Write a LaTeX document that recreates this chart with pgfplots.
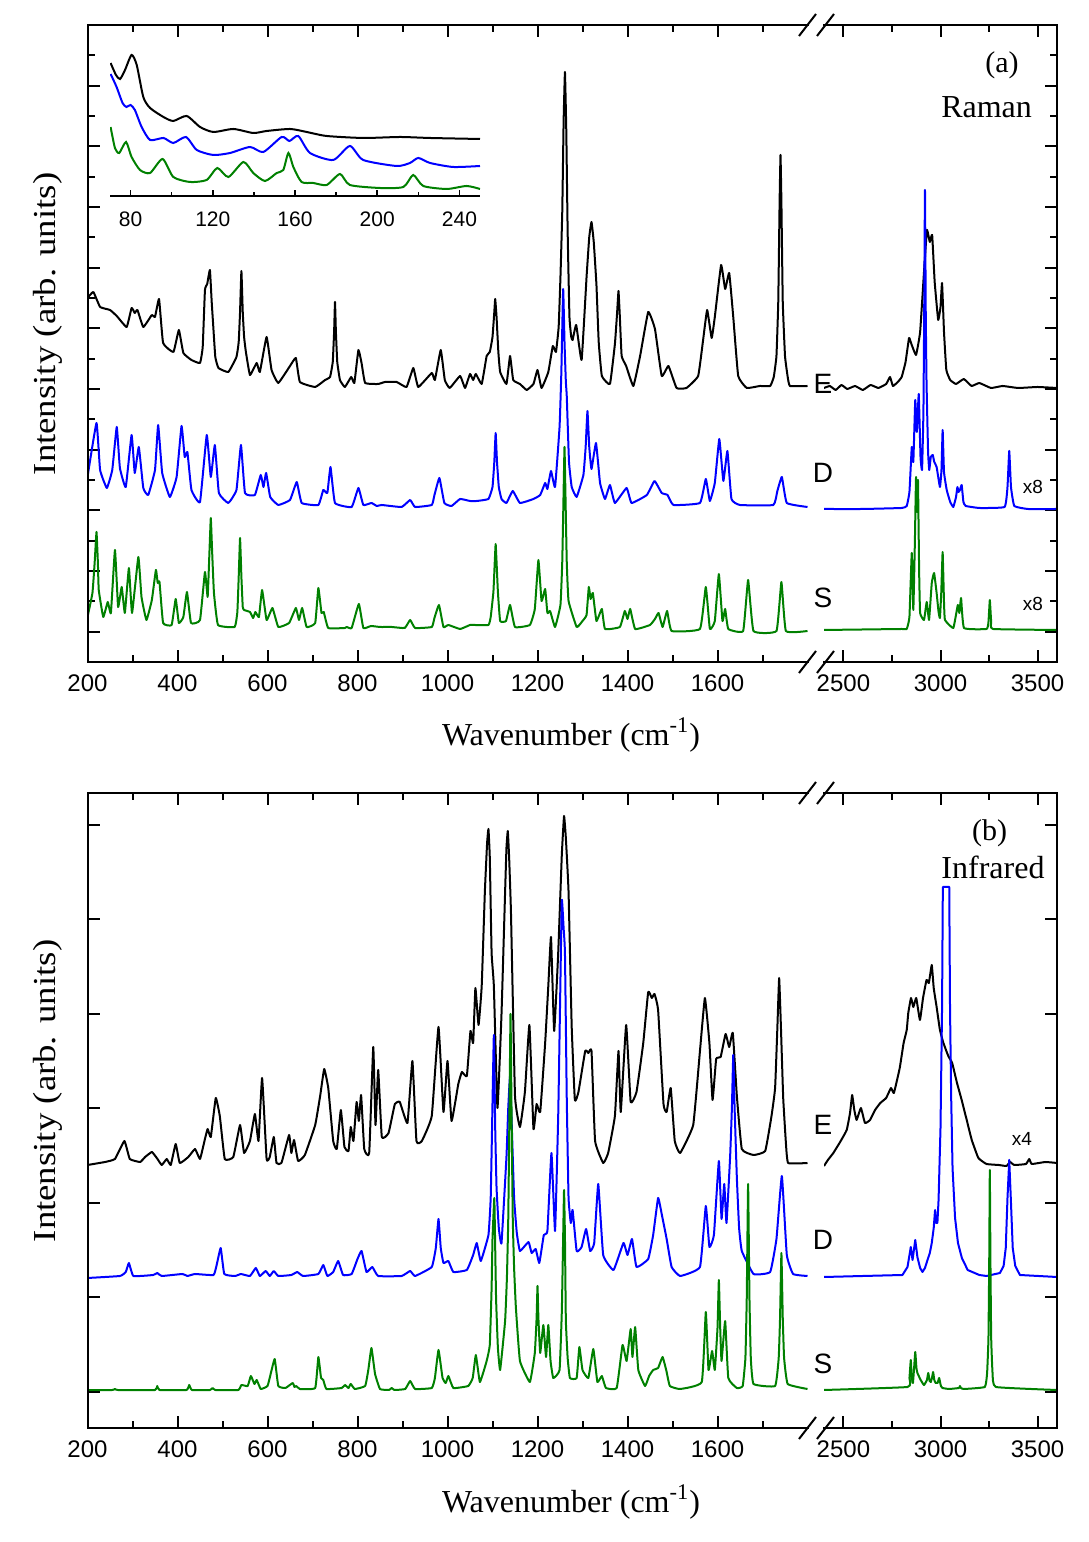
\documentclass[border=0pt]{standalone}
\usepackage{fontspec}
\setmainfont{Liberation Serif}
\setsansfont{Liberation Sans}
\usepackage{pgfplots}
\pgfplotsset{compat=1.18}
\definecolor{cD}{RGB}{0,0,255}
\definecolor{cS}{RGB}{0,128,0}
\pgfplotsset{
  myax/.style={scale only axis, anchor=south west, axis line style={draw=none},
    tick align=inside, major tick length=6pt, minor tick length=3.5pt,
    tick style={black, line width=1pt},
    tick label style={font=\sffamily\fontsize{12}{14}\selectfont},
    xticklabel style={yshift=-3pt},
    /pgf/number format/1000 sep={}, /pgf/number format/assume math mode=true,
    yticklabels={}, ymin=0},
  axA/.style={myax, ymax=637, height=318.5pt,
    ytick={30.33,91,151.67,212.33,273,333.67,394.33,455,515.67,576.33,637},
    minor ytick={0,60.67,121.33,182,242.67,303.33,364,424.67,485.33,546,606.67}},
  axB/.style={myax, ymax=635, height=317.5pt,
    ytick={36.3,130.8,225.3,319.8,414.3,508.8,603.3}},
  L/.style={xmin=200, xmax=1800, width=360pt, xtick={200,400,...,1600}, minor xtick={300,500,...,1700}, ytick pos=left},
  R/.style={xmin=2400, xmax=3600, width=116.5pt, xtick={2500,3000,3500}, minor xtick={2750,3250}, ytick pos=right},
  sE/.style={black, line width=1pt, line join=round, smooth, tension=0.2},
  sD/.style={cD, line width=1pt, line join=round, smooth, tension=0.2},
  sS/.style={cS, line width=1pt, line join=round, smooth, tension=0.2},
}
\begin{document}
\begin{tikzpicture}
\path[use as bounding box] (0pt,0pt) rectangle (544pt,771pt);

% ================= Panel (a) left =================
\begin{axis}[axA, L, at={(43.75pt,440pt)}]
\addplot[sE] coordinates {(200,364) (213,370) (228,355) (250,352) (265,346) (287,335) (298,354) (305,349) (311,352) (324,335) (343,347) (350,345) (359,363) (368,319) (391,310) (403,332) (413,309) (431,302) (450,299) (456,315) (461,372) (466,378) (472,392) (476,360) (479,339) (484,305) (491,294) (513,290) (531,305) (536,320) (539,350) (542,391) (545,350) (548,325) (552,310) (561,287) (576,299) (583,290) (598,325) (609,292) (624,279) (650,296) (663,304) (672,280) (706,275) (728,282) (739,285) (745,300) (748,330) (750,360) (752,330) (755,300) (761,282) (772,275) (786,285) (793,279) (802,312) (809,299) (817,279) (846,278) (861,280) (887,280) (909,275) (924,294) (935,275) (965,289) (972,282) (985,312) (994,282) (1005,274) (1028,286) (1039,274) (1050,288) (1057,282) (1063,288) (1076,278) (1087,306) (1094,310) (1100,325) (1104,350) (1106,363) (1109,345) (1113,310) (1117,290) (1131,278) (1139,306) (1146,282) (1161,278) (1176,272) (1191,278) (1200,292) (1209,274) (1224,290) (1234,316) (1241,310) (1247,335) (1251,385) (1255,450) (1258,540) (1261,590) (1264,530) (1267,430) (1271,345) (1275,325) (1278,322) (1286,337) (1298,302) (1309,385) (1315,425) (1320,440) (1325,420) (1331,377) (1336,320) (1343,286) (1361,278) (1372,318) (1377,350) (1380,371) (1383,345) (1387,306) (1397,296) (1413,276) (1428,306) (1446,350) (1461,333) (1476,286) (1491,296) (1509,274) (1531,274) (1557,286) (1568,322) (1577,352) (1587,324) (1594,345) (1608,397) (1617,373) (1626,389) (1635,345) (1646,286) (1665,274) (1694,276) (1717,276) (1725,285) (1731,306) (1735,360) (1738,460) (1740,507) (1742,460) (1745,360) (1750,306) (1756,285) (1761,276) (1800,276)};
\addplot[sD] coordinates {(200,185) (220,239) (228,192) (243,174) (255,192) (265,235) (272,194) (285,175) (298,227) (305,189) (314,215) (324,174) (335,167) (350,192) (357,237) (366,189) (383,165) (398,185) (409,236) (416,205) (422,210) (431,172) (450,160) (465,227) (474,185) (483,217) (492,169) (513,159) (531,172) (541,217) (550,169) (572,167) (585,187) (591,175) (597,189) (606,165) (624,157) (650,162) (665,180) (676,159) (713,157) (724,172) (733,169) (740,195) (750,159) (787,155) (802,174) (813,157) (831,159) (843,156) (854,157) (898,155) (917,162) (928,155) (965,157) (971,167) (982,184) (993,159) (1009,156) (1028,163) (1050,161) (1065,161) (1091,163) (1100,175) (1104,200) (1107,229) (1110,200) (1114,175) (1120,163) (1131,159) (1145,171) (1161,159) (1191,163) (1206,167) (1217,179) (1222,173) (1230,191) (1239,175) (1249,235) (1253,290) (1257,373) (1260,320) (1263,280) (1265,266) (1270,200) (1276,175) (1287,165) (1302,187) (1307,215) (1311,251) (1315,215) (1320,193) (1330,219) (1339,179) (1350,163) (1361,177) (1372,159) (1398,174) (1409,159) (1443,167) (1460,181) (1476,169) (1489,167) (1502,157) (1561,159) (1574,183) (1583,161) (1594,179) (1604,223) (1613,181) (1622,211) (1631,163) (1650,157) (1724,157) (1733,171) (1743,185) (1754,159) (1800,155)};
\addplot[sS] coordinates {(200,45) (211,69) (216,100) (220,130) (223,100) (225,72) (235,45) (245,60) (252,49) (261,112) (268,55) (276,75) (283,49) (292,94) (299,49) (313,105) (320,65) (331,42) (343,62) (352,92) (356,79) (360,80) (368,39) (387,37) (396,63) (403,39) (413,45) (421,70) (430,39) (450,42) (461,90) (467,65) (471,110) (474,144) (477,110) (481,69) (490,37) (527,35) (533,50) (536,85) (539,124) (542,85) (545,55) (548,52) (561,50) (568,44) (573,50) (581,45) (588,72) (598,42) (611,54) (624,35) (648,39) (663,54) (670,42) (677,54) (687,35) (706,39) (713,74) (720,49) (725,50) (735,34) (772,34) (776,35) (787,34) (803,58) (813,34) (830,36) (850,35) (876,35) (905,34) (917,42) (928,34) (965,35) (971,44) (981,57) (991,35) (1002,37) (1028,33) (1050,37) (1061,37) (1091,37) (1096,45) (1102,70) (1105,100) (1107,118) (1109,100) (1112,70) (1117,41) (1130,41) (1139,57) (1150,35) (1183,37) (1194,53) (1202,102) (1209,61) (1217,73) (1222,49) (1228,51) (1239,35) (1251,57) (1255,100) (1258,170) (1260,215) (1262,170) (1265,100) (1269,61) (1287,35) (1300,41) (1309,47) (1314,75) (1318,63) (1323,69) (1331,41) (1343,53) (1350,33) (1383,35) (1394,51) (1400,43) (1406,53) (1417,33) (1450,37) (1461,43) (1469,49) (1478,35) (1488,51) (1498,31) (1561,33) (1574,75) (1583,33) (1594,41) (1603,88) (1611,41) (1617,53) (1624,33) (1657,31) (1668,82) (1680,31) (1731,31) (1742,80) (1752,31) (1800,31)};
\end{axis}

% ================= Panel (a) right =================
\begin{axis}[axA, R, at={(412pt,440pt)}]
\addplot[sE] coordinates {(2400,274) (2430,276) (2460,272) (2490,277) (2520,273) (2560,276) (2600,272) (2640,277) (2680,274) (2720,278) (2740,285) (2755,276) (2780,280) (2800,285) (2820,300) (2838,324) (2850,318) (2874,307) (2895,330) (2915,390) (2930,432) (2945,420) (2957,427) (2970,380) (2988,342) (3000,355) (3008,379) (3018,330) (3030,292) (3050,282) (3080,278) (3120,283) (3160,276) (3200,279) (3260,274) (3320,276) (3400,274) (3500,275) (3600,274)};
\addplot[sD] coordinates {(2400,153) (2600,153) (2800,154) (2826,156) (2840,170) (2852,215) (2860,200) (2870,262) (2878,230) (2888,268) (2897,205) (2905,192) (2912,250) (2916,350) (2920,472) (2924,350) (2928,280) (2936,210) (2942,192) (2950,205) (2960,207) (2968,200) (2980,195) (2997,175) (3005,192) (3011,232) (3018,190) (3032,172) (3050,160) (3066,155) (3080,165) (3087,175) (3093,170) (3100,172) (3109,177) (3118,160) (3130,156) (3200,154) (3330,155) (3345,175) (3354,211) (3363,175) (3380,156) (3450,153) (3600,153)};
\addplot[sS] coordinates {(2400,32) (2800,33) (2826,33) (2840,45) (2852,109) (2860,52) (2868,120) (2874,185) (2880,150) (2884,182) (2890,90) (2895,49) (2915,42) (2929,60) (2941,42) (2955,79) (2967,89) (2980,69) (2990,50) (2997,44) (3004,70) (3011,110) (3018,60) (3023,42) (3066,34) (3089,57) (3097,49) (3106,64) (3121,34) (3237,33) (3247,40) (3254,62) (3261,40) (3271,33) (3600,32)};
\end{axis}

% ================= Inset =================
\begin{axis}[scale only axis, anchor=south west, at={(55pt,673pt)}, width=185pt, height=75pt,
  xmin=70, xmax=250, ymin=0, ymax=150, axis x line*=bottom, axis y line=none, ytick=\empty,
  xtick={80,120,...,240}, minor xtick={100,140,180,220},
  tick align=inside, major tick length=3pt, minor tick length=2pt,
  tick style={black, line width=0.8pt}, x axis line style={line width=1pt},
  tick label style={font=\sffamily\fontsize{10.5}{12}\selectfont},
  xticklabel style={yshift=-4.5pt},
  /pgf/number format/assume math mode=true]
\addplot[black, line width=1pt, smooth, tension=0.4] coordinates {(70.3,133) (72.9,121) (74.9,117) (77.3,126) (80.5,141) (83,131) (86.2,99) (89.5,88) (96,79) (100.8,75) (107.3,80) (113.8,69) (120.3,64) (130,67) (139.7,63) (146.2,65) (157.6,67) (165.7,64) (175.4,60) (193.3,58) (211.1,59) (225.7,58) (250,57)};
\addplot[cD, line width=1pt, smooth, tension=0.4] coordinates {(70.3,122) (73.2,109) (76.1,93) (78,89) (80,91) (82.1,86) (85.4,69) (89.5,56) (96,58) (100.8,53) (107,59) (112.2,46) (120.3,41) (128.4,43) (138.1,49) (144.6,44) (153.5,59) (157.3,55) (161.6,60) (167.3,43) (178.6,36) (186.7,50) (193.2,36) (209.4,30) (215.9,33) (220,38) (225.7,33) (237,29) (250,30)};
\addplot[cS, line width=1pt, smooth, tension=0.4] coordinates {(70.3,69) (72.4,48) (74.5,43) (77.8,54) (80.5,39) (84.6,26) (89.5,23) (95.6,37) (100.8,19) (108.9,14) (117,16) (122.2,28) (127.6,19) (134.9,34) (139.7,23) (145.4,15) (151.1,23) (154.3,26) (156.8,43) (159.2,29) (163.2,14) (168.9,13) (175.4,11) (181.9,22) (186.7,11) (201.3,8) (212.7,9) (217.5,21) (222.4,10) (233.8,7) (243.5,10) (250,7)};
\end{axis}

% ================= Panel (b) left =================
\begin{axis}[axB, L, at={(43.75pt,57pt)}]
\addplot[sE] coordinates {(200,263) (239,266) (261,269) (282,287) (294,269) (317,266) (328,271) (343,276) (354,270) (365,263) (376,269) (385,263) (396,284) (405,265) (424,271) (439,279) (450,269) (461,289) (467,299) (474,291) (485,330) (494,312) (505,269) (524,271) (539,303) (548,275) (561,287) (572,314) (580,287) (588,350) (598,269) (605,271) (614,291) (620,265) (631,265) (648,293) (653,275) (659,288) (668,267) (683,273) (706,303) (717,332) (726,359) (735,340) (746,287) (754,279) (763,318) (771,281) (780,277) (785,301) (791,287) (798,326) (803,307) (808,333) (815,279) (826,275) (835,381) (840,303) (846,358) (854,291) (869,295) (883,324) (894,326) (911,305) (922,367) (931,287) (943,287) (965,312) (980,401) (991,316) (1000,367) (1009,307) (1024,344) (1032,356) (1043,352) (1051,397) (1057,385) (1062,440) (1069,403) (1076,442) (1083,536) (1088,585) (1091,599) (1094,570) (1098,475) (1103,442) (1111,320) (1120,414) (1128,536) (1131,580) (1134,597) (1137,570) (1141,516) (1150,332) (1161,301) (1172,336) (1182,403) (1191,299) (1198,324) (1206,316) (1217,385) (1224,442) (1230,491) (1237,397) (1246,475) (1254,573) (1259,612) (1263,590) (1269,536) (1276,401) (1283,328) (1291,336) (1306,377) (1313,375) (1320,377) (1328,287) (1346,265) (1357,275) (1372,312) (1380,377) (1385,316) (1397,403) (1407,326) (1420,336) (1435,385) (1446,436) (1454,430) (1460,434) (1468,418) (1480,324) (1487,316) (1496,340) (1505,287) (1517,275) (1546,303) (1561,377) (1572,430) (1582,385) (1589,328) (1597,369) (1607,371) (1618,394) (1626,381) (1634,395) (1643,332) (1654,279) (1680,273) (1706,277) (1720,312) (1728,340) (1733,400) (1737,450) (1741,400) (1746,330) (1752,285) (1757,265) (1800,265)};
\addplot[sD] coordinates {(200,150) (272,152) (285,156) (292,165) (302,152) (346,153) (355,155) (365,152) (411,154) (422,152) (439,154) (480,153) (487,163) (496,180) (504,154) (528,152) (541,154) (561,152) (574,160) (583,152) (596,157) (605,152) (614,157) (624,152) (653,153) (666,156) (679,152) (713,154) (724,163) (733,152) (746,156) (757,167) (768,153) (787,154) (800,169) (809,177) (820,156) (833,161) (846,152) (898,152) (917,157) (928,152) (965,161) (974,180) (980,209) (985,180) (991,165) (1002,167) (1013,156) (1043,158) (1057,173) (1065,185) (1074,167) (1091,193) (1096,230) (1099,300) (1103,393) (1106,300) (1109,240) (1114,200) (1120,185) (1131,271) (1135,320) (1139,352) (1143,300) (1148,230) (1154,195) (1161,177) (1180,186) (1187,175) (1196,179) (1204,165) (1214,193) (1222,197) (1231,275) (1239,197) (1246,312) (1250,420) (1254,528) (1258,500) (1261,475) (1265,330) (1269,230) (1274,205) (1278,218) (1287,177) (1298,181) (1308,199) (1317,177) (1326,185) (1335,244) (1346,173) (1369,158) (1391,185) (1400,173) (1410,189) (1420,161) (1446,169) (1457,193) (1468,230) (1476,214) (1487,189) (1498,161) (1517,152) (1561,161) (1574,222) (1582,181) (1592,193) (1603,267) (1609,209) (1615,244) (1620,205) (1628,271) (1632,320) (1635,373) (1638,320) (1643,250) (1648,200) (1654,177) (1680,154) (1717,156) (1731,189) (1743,252) (1754,173) (1768,154) (1800,152)};
\addplot[sS] coordinates {(200,38) (255,38) (261,39) (267,38) (350,38) (355,42) (360,38) (420,38) (426,43) (432,38) (472,38) (478,40) (484,38) (535,38) (542,43) (556,42) (563,52) (571,44) (576,48) (585,39) (600,42) (607,54) (616,69) (624,42) (640,40) (656,45) (660,41) (664,42) (672,39) (706,40) (713,71) (719,50) (724,48) (731,39) (765,40) (772,43) (780,40) (785,44) (794,39) (817,42) (824,58) (831,80) (839,54) (850,39) (870,38) (876,40) (882,38) (906,39) (917,47) (928,39) (965,40) (972,50) (980,78) (989,50) (996,45) (1002,52) (1013,40) (1046,42) (1056,50) (1063,73) (1072,46) (1087,67) (1094,83) (1098,140) (1100,189) (1104,230) (1106,180) (1108,128) (1112,80) (1117,58) (1128,107) (1132,150) (1135,209) (1138,330) (1140,414) (1142,330) (1145,210) (1148,160) (1152,120) (1161,67) (1183,46) (1194,75) (1198,110) (1200,142) (1202,110) (1206,75) (1213,103) (1219,71) (1224,103) (1229,67) (1235,50) (1249,58) (1254,116) (1257,190) (1259,238) (1261,190) (1263,107) (1267,70) (1272,50) (1287,50) (1293,81) (1300,58) (1313,50) (1324,79) (1333,46) (1343,52) (1352,40) (1376,40) (1389,83) (1398,67) (1407,99) (1411,71) (1417,101) (1424,58) (1439,42) (1448,52) (1457,58) (1468,60) (1478,71) (1487,56) (1494,42) (1517,39) (1565,46) (1574,116) (1580,58) (1588,77) (1594,58) (1600,100) (1603,148) (1606,100) (1609,67) (1617,107) (1624,50) (1643,40) (1656,42) (1662,70) (1665,130) (1668,244) (1671,130) (1674,70) (1680,44) (1728,42) (1736,70) (1739,110) (1742,175) (1745,110) (1748,70) (1756,44) (1800,39)};
\end{axis}

% ================= Panel (b) right =================
\begin{axis}[axB, R, at={(412pt,57pt)}]
\addplot[sE] coordinates {(2400,262) (2420,268) (2448,275) (2483,286) (2517,298) (2534,315) (2545,333) (2556,318) (2568,308) (2590,320) (2611,305) (2637,308) (2663,318) (2690,325) (2720,330) (2745,340) (2760,335) (2790,360) (2810,385) (2826,398) (2834,415) (2848,430) (2860,421) (2875,430) (2894,408) (2910,430) (2928,448) (2940,445) (2955,463) (2965,440) (2980,421) (2997,398) (3015,385) (3040,372) (3060,365) (3085,345) (3109,328) (3135,308) (3161,288) (3195,270) (3237,264) (3300,263) (3340,262) (3358,266) (3380,263) (3440,264) (3457,269) (3470,264) (3540,266) (3600,265)};
\addplot[cD, line width=1pt, line join=round] coordinates {(2400,151) (2600,152) (2804,153) (2830,161) (2847,181) (2856,168) (2870,188) (2881,171) (2895,160) (2907,156) (2920,160) (2933,168) (2945,175) (2955,185) (2965,200) (2972,218) (2978,205) (2984,205) (2990,228) (3000,300) (3008,420) (3012,541) (3045,541) (3049,420) (3055,330) (3062,260) (3075,210) (3090,185) (3110,170) (3140,158) (3200,153) (3237,152) (3306,155) (3325,162) (3336,180) (3345,230) (3354,268) (3362,230) (3372,180) (3385,162) (3409,153) (3600,151)};
\addplot[sS] coordinates {(2400,38) (2830,41) (2840,50) (2847,68) (2852,50) (2858,45) (2864,60) (2870,76) (2876,60) (2881,55) (2898,48) (2915,43) (2930,48) (2937,55) (2944,47) (2950,46) (2956,50) (2962,56) (2968,48) (2975,45) (2985,45) (2993,50) (3002,42) (3010,40) (3044,39) (3095,40) (3100,42) (3105,40) (3121,39) (3228,41) (3240,55) (3247,90) (3251,170) (3254,258) (3257,170) (3261,90) (3268,55) (3285,41) (3600,38)};
\end{axis}

% ================= frames and breaks =================
\begin{scope}[line width=1pt, line cap=rect]
\draw (403.75pt,758.5pt) -- (43.75pt,758.5pt) -- (43.75pt,440pt) -- (403.75pt,440pt);
\draw (412pt,758.5pt) -- (528.5pt,758.5pt) -- (528.5pt,440pt) -- (412pt,440pt);
\draw (403.75pt,374.5pt) -- (43.75pt,374.5pt) -- (43.75pt,57pt) -- (403.75pt,57pt);
\draw (412pt,374.5pt) -- (528.5pt,374.5pt) -- (528.5pt,57pt) -- (412pt,57pt);
\end{scope}
\begin{scope}[line width=1pt]
\foreach \yy in {440,758.5,57,374.5}{
  \draw (399.5pt,\yy pt-5.5pt) -- (408pt,\yy pt+5.5pt);
  \draw (408.5pt,\yy pt-5.5pt) -- (417pt,\yy pt+5.5pt);
}
\end{scope}

% ================= text =================
\node[font=\fontsize{16}{19}\selectfont] at (285.5pt,403.5pt) {Wavenumber (cm\textsuperscript{-1})};
\node[font=\fontsize{16}{19}\selectfont] at (285.5pt,20pt) {Wavenumber (cm\textsuperscript{-1})};
\node[rotate=90, xscale=1.15, font=\fontsize{16}{19}\selectfont] at (24pt,609pt) {Intensity (arb. units)};
\node[rotate=90, xscale=1.15, font=\fontsize{16}{19}\selectfont] at (24pt,225.5pt) {Intensity (arb. units)};
\node[font=\fontsize{15}{18}\selectfont] at (501pt,738.5pt) {(a)};
\node[font=\fontsize{16}{19}\selectfont] at (493.3pt,717.5pt) {Raman};
\node[font=\fontsize{15}{18}\selectfont] at (494.8pt,354.5pt) {(b)};
\node[font=\fontsize{16}{19}\selectfont] at (496.5pt,337.5pt) {Infrared};
\begin{scope}[font=\sffamily\fontsize{14}{16}\selectfont]
\node at (411.5pt,579pt) {E};
\node at (411.5pt,534.75pt) {D};
\node at (411.5pt,472.25pt) {S};
\node at (411.5pt,208.5pt) {E};
\node at (411.5pt,151pt) {D};
\node at (411.5pt,89pt) {S};
\end{scope}
\begin{scope}[font=\sffamily\fontsize{9.5}{11}\selectfont]
\node at (516.5pt,527.5pt) {x8};
\node at (516.5pt,469pt) {x8};
\node at (511pt,201.5pt) {x4};
\end{scope}
\end{tikzpicture}
\end{document}
